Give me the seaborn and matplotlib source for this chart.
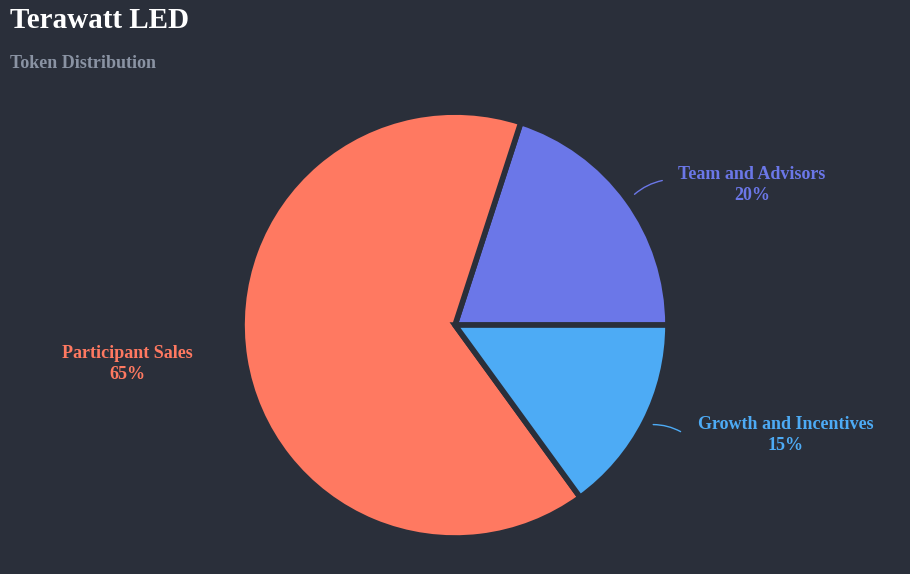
import numpy as np
import matplotlib
matplotlib.use("Agg")
import matplotlib.pyplot as plt
import seaborn as sns

labels = ["Team and Advisors", "Participant Sales", "Growth and Incentives"]
values = [20, 65, 15]
colors = ["#6b77e8", "#ff7961", "#4dabf5"]

bg = "#2a2f3a"
sns.set_theme(style="dark")
plt.rcParams['font.family'] = ['Liberation Serif', 'DejaVu Serif']

fig = plt.figure(figsize=(9.1, 5.74), dpi=100, facecolor=bg)
ax = fig.add_axes([0.266, 0.0627, 0.468, 0.742])
ax.set_facecolor(bg)
wedges, _ = ax.pie(values, colors=colors, startangle=0, counterclock=True,
                   wedgeprops=dict(edgecolor=bg, linewidth=4))
ax.set_aspect('equal')
ax.set_xlim(-1, 1); ax.set_ylim(-1, 1)
ax.axis('off')

# text positions in figure pixels (origin bottom-left), anchor side
text_pos = [((752, 574 - 185), 'center', (665, 574 - 180)),
            ((127, 574 - 364), 'center', (205, 574 - 362)),
            ((786, 574 - 435), 'center', (683, 574 - 433))]
for w, lab, v, c, (tp, ha, lend) in zip(wedges, labels, values, colors, text_pos):
    ang = np.deg2rad((w.theta1 + w.theta2) / 2)
    x, y = 1.03 * np.cos(ang), 1.03 * np.sin(ang)
    ax.annotate("", xy=(x, y), xycoords='data', xytext=lend, textcoords='figure pixels',
                arrowprops=dict(arrowstyle='-', color=c, lw=1,
                                connectionstyle="arc3,rad=0.15"))
    fig.text(tp[0] / 910, tp[1] / 574, f"{lab}\n{v}%", ha=ha, va='center',
             color=c, fontsize=13, fontweight='bold', linespacing=1.3)

fig.text(10 / 910, 1 - 20 / 574, "Terawatt LED", color="white", fontsize=21,
         fontweight='bold', va='center', ha='left')
fig.text(10 / 910, 1 - 63 / 574, "Token Distribution", color="#8a93a3", fontsize=13,
         fontweight='bold', va='center', ha='left')

fig.savefig("out.png", dpi=100, facecolor=bg)
